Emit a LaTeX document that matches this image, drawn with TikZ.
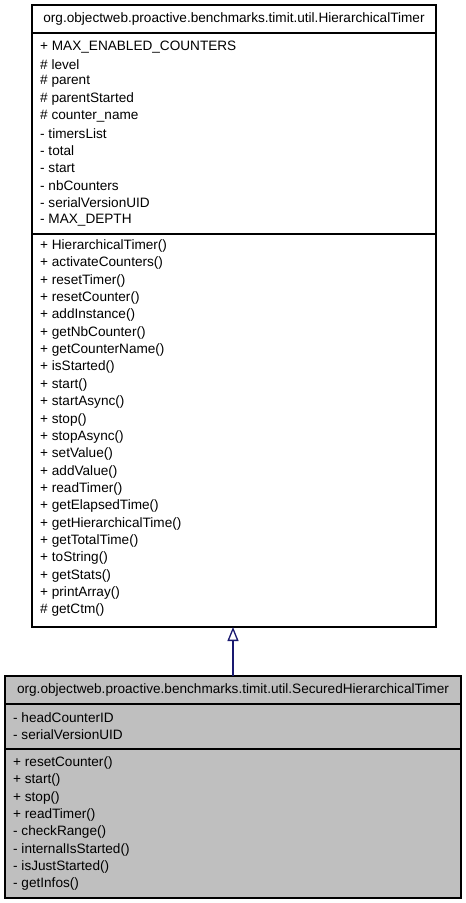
\documentclass[tikz,border=0pt]{standalone}
\usepackage{fontspec}
\setmainfont{Liberation Sans}
\usetikzlibrary{arrows.meta}
\definecolor{edgeblue}{RGB}{25,25,112}
\definecolor{boxgray}{RGB}{191,191,191}
\tikzset{
  classbox/.style={draw=black, line width=1.5pt, inner sep=0pt, outer sep=0pt},
  divider/.style={draw=black, line width=1.5pt},
  txt/.style={anchor=west, inner sep=0pt, font=\fontsize{13.6}{16}\selectfont},
  ttl/.style={anchor=center, inner sep=0pt, font=\fontsize{13.6}{16}\selectfont},
  inherit/.style={draw=edgeblue, line width=1.3pt, -{Triangle[open, length=14pt, width=11pt, fill=white]}}
}
\begin{document}
\begin{tikzpicture}[x=1pt, y=-1pt]
\useasboundingbox (0,0) rectangle (466,903);
% base class
\node[classbox, fill=white, minimum width=404pt, minimum height=622pt] (base) at (234,316) {};
\draw[divider] (32,33) -- (436,33);
\draw[divider] (32,234) -- (436,234);
\node[ttl] (basetitle) at (234,19) {org.objectweb.proactive.benchmarks.timit.util.HierarchicalTimer};
\foreach \t [count=\i from 0] in {+ MAX\_ENABLED\_COUNTERS, \# level, \# parent, \# parentStarted, \# counter\_name, - timersList, - total, - start, - nbCounters, - serialVersionUID, - MAX\_DEPTH}
  \node[txt] (ba\i) at (40, 47+\i*17.3) {\t};
\foreach \t [count=\i from 0] in {+ HierarchicalTimer(), + activateCounters(), + resetTimer(), + resetCounter(), + addInstance(), + getNbCounter(), + getCounterName(), + isStarted(), + start(), + startAsync(), + stop(), + stopAsync(), + setValue(), + addValue(), + readTimer(), + getElapsedTime(), + getHierarchicalTime(), + getTotalTime(), + toString(), + getStats(), + printArray(), \# getCtm()}
  \node[txt] (bm\i) at (40, 246+\i*17.35) {\t};
% derived class
\node[classbox, fill=boxgray, minimum width=456pt, minimum height=222pt] (derived) at (233,787) {};
\draw[divider] (5,704) -- (461,704);
\draw[divider] (5,749) -- (461,749);
\node[ttl] (dertitle) at (233,690) {org.objectweb.proactive.benchmarks.timit.util.SecuredHierarchicalTimer};
\foreach \t [count=\i from 0] in {- headCounterID, - serialVersionUID}
  \node[txt] (da\i) at (13, 718+\i*17) {\t};
\foreach \t [count=\i from 0] in {+ resetCounter(), + start(), + stop(), + readTimer(), - checkRange(), - internalIsStarted(), - isJustStarted(), - getInfos()}
  \node[txt] (dm\i) at (13, 763+\i*17.3) {\t};
% inheritance
\draw[inherit] (derived.north) -- (derived.north |- base.south);
\end{tikzpicture}
\end{document}
